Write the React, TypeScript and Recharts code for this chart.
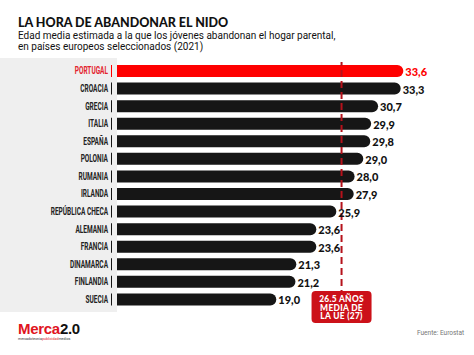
import React from "react";
import { BarChart, Bar, XAxis, YAxis, Cell, LabelList, ReferenceLine } from "recharts";

const countries = ["PORTUGAL", "CROACIA", "GRECIA", "ITALIA", "ESPAÑA", "POLONIA", "RUMANIA", "IRLANDA", "REPÚBLICA CHECA", "ALEMANIA", "FRANCIA", "DINAMARCA", "FINLANDIA", "SUECIA"];
const ages = [33.6, 33.3, 30.7, 29.9, 29.8, 29.0, 28.0, 27.9, 25.9, 23.6, 23.6, 21.3, 21.2, 19.0];
const euAverage = 26.5;
const euBadge = ["26.5 AÑOS", "MEDIA DE", "LA UE (27)"];
const highlight = "PORTUGAL";

const data = countries.map((country, i) => ({ country, age: ages[i] }));

const RED = "#fe0000";
const DARK = "#161616";

function CountryTick({ x, y, payload }: any) {
  const hot = payload.value === highlight;
  return (
    <text
      transform={`translate(${x},${y}) scale(0.62,1)`}
      textAnchor="end"
      dominantBaseline="central"
      fontFamily="Roboto, sans-serif"
      fontWeight={700}
      fontSize={10.5}
      fill={hot ? "#e3232d" : "#222"}
    >
      {payload.value}
    </text>
  );
}

function ValueLabel({ x, y, width, height, value, index }: any) {
  const hot = countries[index] === highlight;
  return (
    <text
      x={x + width + 2}
      y={y + height / 2 + 0.5}
      dominantBaseline="central"
      fontFamily="Lato, sans-serif"
      fontWeight={900}
      fontSize={11}
      fill={hot ? RED : "#111"}
    >
      {value.toFixed(1).replace(".", ",")}
    </text>
  );
}

function EuBadge({ viewBox }: any) {
  const cx = viewBox.x;
  const top = viewBox.y + viewBox.height - 17;
  return (
    <g>
      <rect x={cx - 30} y={top} width={60} height={32} rx={4} fill="#cc1119" />
      {euBadge.map((t, i) => (
        <text
          key={t}
          x={cx}
          y={top + 8 + i * 8.5}
          textAnchor="middle"
          dominantBaseline="central"
          fontFamily="Lato, sans-serif"
          fontWeight={900}
          fontSize={8.4}
          letterSpacing={0.3}
          fill="#fff"
        >
          {t}
        </text>
      ))}
    </g>
  );
}

export default function App() {
  return (
    <div style={{ position: "absolute", left: 0, top: 0, width: 474, height: 355, background: "#fff", overflow: "hidden", fontFamily: "Roboto, sans-serif" }}>
      <div style={{ position: "absolute", left: 18, top: 15, fontFamily: "Lato, sans-serif", fontWeight: 900, fontSize: 12.5, color: "#111", whiteSpace: "nowrap" }}>
        LA HORA DE ABANDONAR EL NIDO
      </div>
      <div style={{ position: "absolute", left: 18, top: 30, fontSize: 10, lineHeight: "11px", color: "#111", whiteSpace: "nowrap" }}>
        Edad media estimada a la que los jóvenes abandonan el hogar parental,
        <br />
        en países europeos seleccionados (2021)
      </div>
      <div style={{ position: "absolute", left: 0, top: 58, width: 117, height: 254, background: "#efefef" }} />
      <div style={{ position: "absolute", left: 0, top: 0 }}>
        <BarChart width={474} height={355} data={data} layout="vertical" margin={{ top: 62, right: 15, bottom: 47, left: 0 }}>
          <XAxis type="number" domain={[0, 40]} hide />
          <YAxis type="category" dataKey="country" width={111} axisLine={false} tickLine={false} tickSize={0} tickMargin={3} tick={<CountryTick />} interval={0} />
          <Bar dataKey="age" barSize={12} radius={[0, 6, 6, 0]} isAnimationActive={false}>
            {data.map((d) => (
              <Cell key={d.country} fill={d.country === highlight ? RED : DARK} />
            ))}
            <LabelList dataKey="age" content={<ValueLabel />} />
          </Bar>
          <ReferenceLine x={euAverage} stroke="#b5121b" strokeWidth={2} strokeDasharray="7 4" label={<EuBadge />} />
        </BarChart>
      </div>
      <div style={{ position: "absolute", left: 112, top: 58, width: 5, height: 254, background: "#efefef" }} />
      <div style={{ position: "absolute", left: 18, top: 320, whiteSpace: "nowrap", fontFamily: "'Liberation Sans', Arial, sans-serif", fontWeight: 700, fontSize: 15, letterSpacing: -0.3 }}>
        <span style={{ color: "#e0141e" }}>Merca</span>
        <span style={{ color: "#111" }}>2.0</span>
      </div>
      <div style={{ position: "absolute", left: 18, top: 337, whiteSpace: "nowrap", fontSize: 3.6, color: "#333" }}>
        mercadotecnia<span style={{ color: "#e0141e" }}>publicidad</span>medios
      </div>
      <div style={{ position: "absolute", left: 417, top: 329, whiteSpace: "nowrap", fontSize: 6.5, color: "#777" }}>
        Fuente: Eurostat
      </div>
    </div>
  );
}
